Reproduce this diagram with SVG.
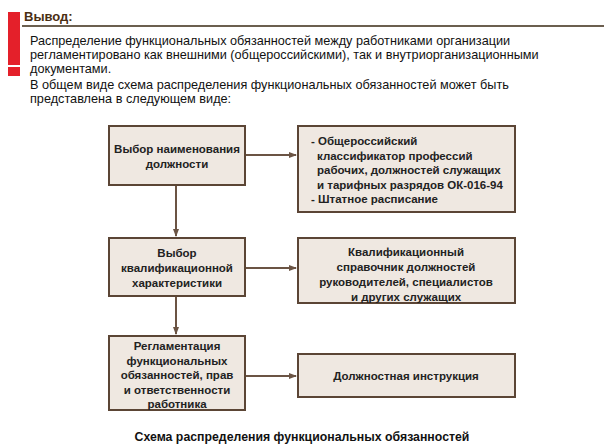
<svg xmlns="http://www.w3.org/2000/svg" width="604" height="446" viewBox="0 0 604 446">
<style>
.b{fill:#efe8e1;stroke:#5b4535;stroke-width:2}
.t{font-family:"Liberation Sans",Arial,sans-serif;font-size:11.5px;font-weight:bold;fill:#222}
.p{font-family:"Liberation Sans",Arial,sans-serif;font-size:12.7px;fill:#111}
.c{stroke:#6b5444;stroke-width:2;fill:none;marker-end:url(#a)}
</style>
<defs><marker id="a" markerWidth="8" markerHeight="6" refX="7" refY="3" orient="auto" markerUnits="userSpaceOnUse"><path d="M0,0L8,3L0,6z" fill="#6b5444"/></marker></defs>
<rect width="604" height="446" fill="#fff"/>
<g id="header">
<rect x="8" y="12" width="12" height="53" fill="#e4202a"/>
<rect x="8" y="67" width="12" height="9" fill="#e4202a"/>
<text x="24" y="21" font-family="Liberation Sans,Arial,sans-serif" font-size="13" font-weight="bold" fill="#4a2e12">Вывод:</text>
<line x1="22" y1="26" x2="604" y2="26" stroke="#3a2a14" stroke-width="1.5"/>
<text class="p" x="30" y="45">Распределение функциональных обязанностей между работниками организации</text>
<text class="p" x="30" y="59">регламентировано как внешними (общероссийскими), так и внутриорганизационными</text>
<text class="p" x="30" y="73">документами.</text>
<text class="p" x="30" y="89">В общем виде схема распределения функциональных обязанностей может быть</text>
<text class="p" x="30" y="103">представлена в следующем виде:</text>
</g>
<g id="connectors">
<path class="c" d="M245,155H296"/>
<path class="c" d="M176,185V236"/>
<path class="c" d="M245,268H296"/>
<path class="c" d="M176,296V334"/>
<path class="c" d="M245,376H296"/>
</g>
<g id="n1"><rect class="b" x="109" y="126" width="136" height="59"/>
<text class="t" text-anchor="middle" x="177" y="153">Выбор наименования</text><text class="t" text-anchor="middle" x="177" y="168">должности</text></g>
<g id="n2"><rect class="b" x="298" y="126" width="217" height="86"/>
<text class="t" x="311" y="145">- Общероссийский</text>
<text class="t" x="317" y="159.5">классификатор профессий</text>
<text class="t" x="317" y="174">рабочих, должностей служащих</text>
<text class="t" x="317" y="188.5">и тарифных разрядов ОК-016-94</text>
<text class="t" x="311" y="203">- Штатное расписание</text></g>
<g id="n3"><rect class="b" x="109" y="238" width="136" height="58"/>
<text class="t" text-anchor="middle" x="177" y="257">Выбор</text><text class="t" text-anchor="middle" x="177" y="272">квалификационной</text><text class="t" text-anchor="middle" x="177" y="287">характеристики</text></g>
<g id="n4"><rect class="b" x="298" y="238" width="217" height="65"/>
<text class="t" text-anchor="middle" x="406" y="256">Квалификационный</text><text class="t" text-anchor="middle" x="406" y="271">справочник должностей</text><text class="t" text-anchor="middle" x="406" y="286">руководителей, специалистов</text><text class="t" text-anchor="middle" x="406" y="301">и других служащих</text></g>
<g id="n5"><rect class="b" x="109" y="336" width="136" height="74"/>
<text class="t" text-anchor="middle" x="177" y="350">Регламентация</text><text class="t" text-anchor="middle" x="177" y="364.5">функциональных</text><text class="t" text-anchor="middle" x="177" y="379">обязанностей, прав</text><text class="t" text-anchor="middle" x="177" y="393.5">и ответственности</text><text class="t" text-anchor="middle" x="177" y="408">работника</text></g>
<g id="n6"><rect class="b" x="298" y="354" width="217" height="43"/>
<text class="t" text-anchor="middle" x="406" y="380">Должностная инструкция</text></g>
<text x="302" y="441" text-anchor="middle" font-family="Liberation Sans,Arial,sans-serif" font-size="12.3" font-weight="bold" fill="#111">Схема распределения функциональных обязанностей</text>
</svg>
